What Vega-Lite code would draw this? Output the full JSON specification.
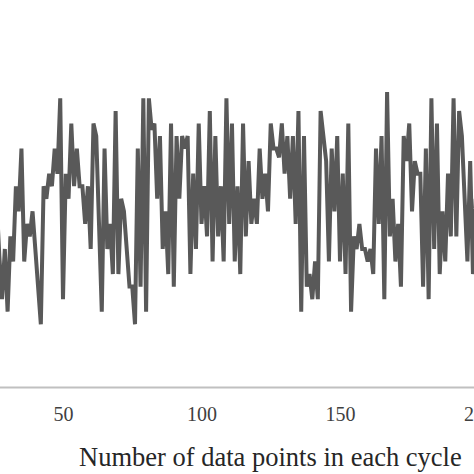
{
  "$schema": "https://vega.github.io/schema/vega-lite/v6.json",
  "autosize": "none",
  "width": 526.3,
  "height": 387,
  "padding": {"left": -20.1, "top": 0, "right": -32.2, "bottom": 87},
  "background": "white",
  "config": {"view": {"stroke": null}},
  "data": {"values": [
    {"x":26,"v":15},{"x":27,"v":10.5},{"x":28,"v":7},{"x":29,"v":11},{"x":30,"v":6},{"x":31,"v":12},{"x":32,"v":10},{"x":33,"v":16},{"x":34,"v":14},{"x":35,"v":19},
    {"x":36,"v":10},{"x":37,"v":13},{"x":38,"v":12},{"x":39,"v":14},{"x":40,"v":11},{"x":41,"v":8},{"x":42,"v":5},{"x":43,"v":16},{"x":44,"v":15},{"x":45,"v":17},
    {"x":46,"v":16},{"x":47,"v":19},{"x":48,"v":17},{"x":49,"v":23},{"x":50,"v":7},{"x":51,"v":17},{"x":52,"v":15},{"x":53,"v":21},{"x":54,"v":16},{"x":55,"v":19},
    {"x":56,"v":16},{"x":57,"v":16},{"x":58,"v":13},{"x":59,"v":16},{"x":60,"v":11},{"x":61,"v":21},{"x":62,"v":20},{"x":63,"v":13},{"x":64,"v":6},{"x":65,"v":19},
    {"x":66,"v":11},{"x":67,"v":13},{"x":68,"v":9},{"x":69,"v":22},{"x":70,"v":9},{"x":71,"v":15},{"x":72,"v":14},{"x":73,"v":11},{"x":74,"v":8},{"x":75,"v":8},
    {"x":76,"v":5},{"x":77,"v":19},{"x":78,"v":8},{"x":79,"v":23},{"x":80,"v":6},{"x":81,"v":23},{"x":82,"v":20.5},{"x":83,"v":21},{"x":84,"v":15},{"x":85,"v":20},
    {"x":86,"v":11},{"x":87,"v":14},{"x":88,"v":9},{"x":89,"v":21},{"x":90,"v":8},{"x":91,"v":20},{"x":92,"v":15},{"x":93,"v":20},{"x":94,"v":19},{"x":95,"v":20},
    {"x":96,"v":9},{"x":97,"v":17},{"x":98,"v":11},{"x":99,"v":21},{"x":100,"v":13},{"x":101,"v":16},{"x":102,"v":12},{"x":103,"v":22},{"x":104,"v":10},{"x":105,"v":20},
    {"x":106,"v":12},{"x":107,"v":16},{"x":108,"v":10},{"x":109,"v":23},{"x":110,"v":13},{"x":111,"v":21},{"x":112,"v":10},{"x":113,"v":16},{"x":114,"v":9},{"x":115,"v":21},
    {"x":116,"v":12},{"x":117,"v":18},{"x":118,"v":13},{"x":119,"v":15},{"x":120,"v":13},{"x":121,"v":19},{"x":122,"v":15},{"x":123,"v":17},{"x":124,"v":14},{"x":125,"v":21},
    {"x":126,"v":19},{"x":127,"v":19},{"x":128,"v":18.3},{"x":129,"v":21},{"x":130,"v":17},{"x":131,"v":20},{"x":132,"v":15},{"x":133,"v":20},{"x":134,"v":13},{"x":135,"v":22},
    {"x":136,"v":6},{"x":137,"v":20},{"x":138,"v":8},{"x":139,"v":9},{"x":140,"v":7},{"x":141,"v":10},{"x":142,"v":7},{"x":143,"v":22},{"x":144,"v":20},{"x":145,"v":18},
    {"x":146,"v":10},{"x":147,"v":19},{"x":148,"v":14},{"x":149,"v":20},{"x":150,"v":10},{"x":151,"v":17},{"x":152,"v":9},{"x":153,"v":21},{"x":154,"v":6},{"x":155,"v":12},
    {"x":156,"v":11},{"x":157,"v":13},{"x":158,"v":11},{"x":159,"v":11},{"x":160,"v":10},{"x":161,"v":11},{"x":162,"v":9},{"x":163,"v":19},{"x":164,"v":13},{"x":165,"v":20},
    {"x":166,"v":7},{"x":167,"v":23.5},{"x":168,"v":12},{"x":169,"v":15},{"x":170,"v":10},{"x":171,"v":13},{"x":172,"v":8},{"x":173,"v":20},{"x":174,"v":18},{"x":175,"v":21},
    {"x":176,"v":14},{"x":177,"v":18},{"x":178,"v":17},{"x":179,"v":17},{"x":180,"v":8},{"x":181,"v":19},{"x":182,"v":7},{"x":183,"v":23},{"x":184,"v":11},{"x":185,"v":21},
    {"x":186,"v":9},{"x":187,"v":14},{"x":188,"v":10},{"x":189,"v":17},{"x":190,"v":12},{"x":191,"v":23},{"x":192,"v":12},{"x":193,"v":22},{"x":194,"v":20},{"x":195,"v":15},
    {"x":196,"v":10},{"x":197,"v":18},{"x":198,"v":9},{"x":199,"v":15}
  ]},
  "mark": {"type": "line", "color": "#595959", "strokeWidth": 4},
  "encoding": {
    "x": {
      "field": "x", "type": "quantitative",
      "scale": {"domain": [20, 210], "nice": false, "zero": false},
      "axis": {
        "values": [50, 100, 150, 200],
        "grid": false, "ticks": false, "tickSize": 0,
        "domainColor": "#c0c0c0", "domainWidth": 2,
        "labelFont": "Liberation Serif", "labelFontSize": 20, "labelColor": "#404040",
        "labelBaseline": "alphabetic", "labelPadding": 33, "labelFlush": false, "labelOverlap": false,
        "title": "Number of data points in each cycle",
        "titleFont": "Liberation Serif", "titleFontSize": 26.5, "titleFontWeight": "normal", "titleColor": "#262626",
        "titleX": 290, "titleY": 78, "titleBaseline": "alphabetic", "titleAlign": "center"
      }
    },
    "y": {
      "field": "v", "type": "quantitative",
      "scale": {"domain": [0, 30.84], "nice": false, "zero": false},
      "axis": null
    }
  }
}
